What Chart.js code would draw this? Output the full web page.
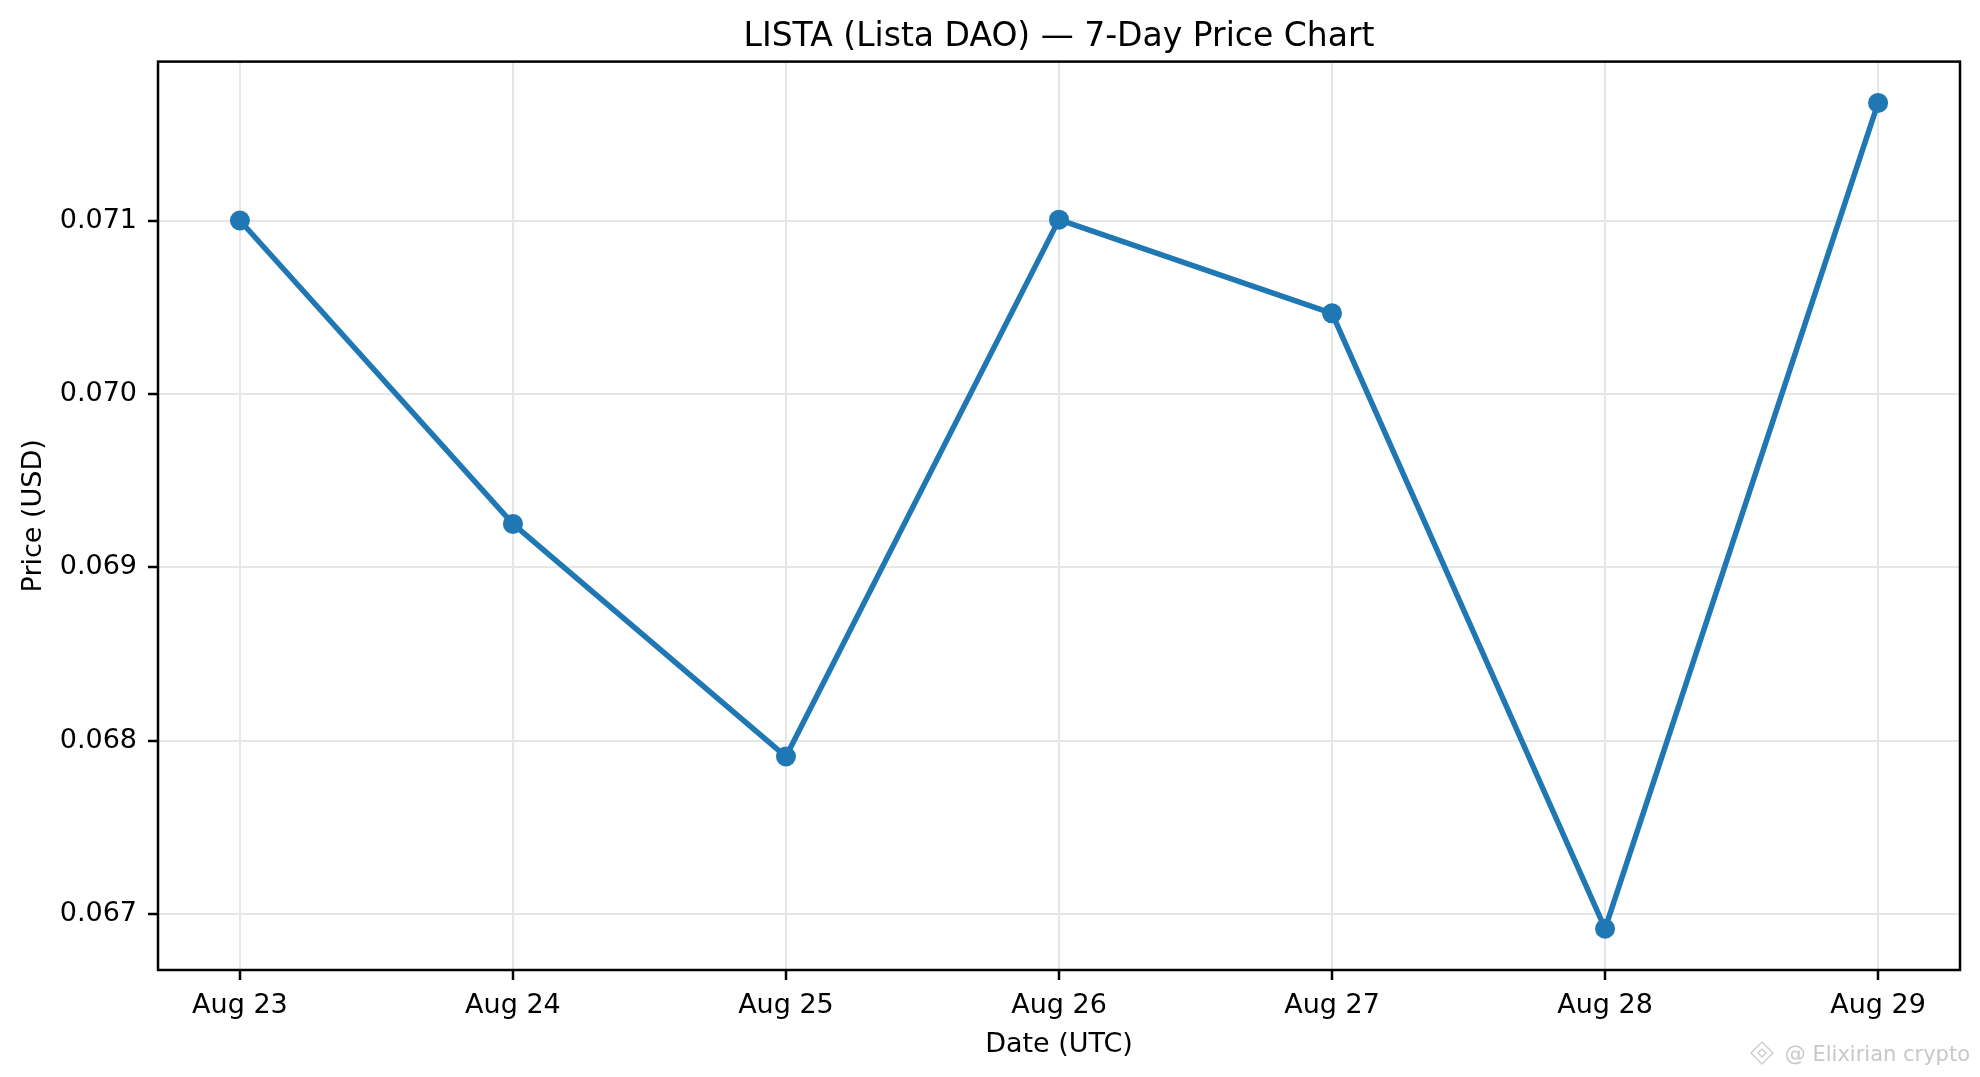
<!DOCTYPE html>
<html>
<head>
<meta charset="utf-8">
<script src="https://cdn.jsdelivr.net/npm/chart.js@4.4.1/dist/chart.umd.min.js"></script>
<style>
  html, body { margin: 0; padding: 0; background: #ffffff; }
  #wrap { width: 1980px; height: 1077px; }
  canvas { display: block; }
</style>
</head>
<body>
<div id="wrap"><canvas id="c" width="1980" height="1077"></canvas></div>
<script>
// ---- data ----
const chartTitle = 'LISTA (Lista DAO) — 7-Day Price Chart';
const xAxisTitle = 'Date (UTC)';
const yAxisTitle = 'Price (USD)';
const dateLabels = ['Aug 23', 'Aug 24', 'Aug 25', 'Aug 26', 'Aug 27', 'Aug 28', 'Aug 29'];
const prices = [0.071003, 0.069251, 0.067908, 0.071008, 0.070467, 0.066914, 0.071682];
const yTickValues = [0.067, 0.068, 0.069, 0.070, 0.071];
const yTickLabels = ['0.067', '0.068', '0.069', '0.070', '0.071'];
const watermark = '@ Elixirian crypto';

// ---- derived (library inputs) ----
const points = prices.map((v, i) => ({ x: i, y: v }));
const n = dateLabels.length;
const xMin = -0.05 * (n - 1);
const xMax = (n - 1) * 1.05;
const pMin = Math.min(...prices), pMax = Math.max(...prices);
const pRange = pMax - pMin;
const yMin = pMin - 0.05 * pRange;
const yMax = pMax + 0.05 * pRange;

const FONT = "'DejaVu Sans', 'Liberation Sans', sans-serif";
const BLUE = '#1f77b4';
const GRID = '#e6e6e6';

const framePlugin = {
  id: 'frame',
  afterDatasetsDraw(chart) {
    const { ctx, chartArea: a } = chart;
    ctx.save();
    ctx.strokeStyle = '#000000';
    ctx.lineWidth = 2.5;
    ctx.strokeRect(a.left, a.top, a.right - a.left, a.bottom - a.top);
    ctx.restore();
  },
  afterDraw(chart) {
    const { ctx } = chart;
    ctx.save();
    ctx.fillStyle = '#c8c8c8';
    ctx.strokeStyle = '#d0d0d0';
    ctx.font = '21px ' + FONT;
    ctx.textAlign = 'right';
    ctx.textBaseline = 'alphabetic';
    ctx.fillText(watermark, 1970, 1061);
    // small diamond logo
    const cx = 1762, cy = 1053, r = 11;
    ctx.lineWidth = 1.5;
    ctx.beginPath();
    ctx.moveTo(cx, cy - r); ctx.lineTo(cx + r, cy); ctx.lineTo(cx, cy + r); ctx.lineTo(cx - r, cy); ctx.closePath();
    ctx.stroke();
    ctx.beginPath();
    ctx.moveTo(cx, cy - 4); ctx.lineTo(cx + 4, cy); ctx.lineTo(cx, cy + 4); ctx.lineTo(cx - 4, cy); ctx.closePath();
    ctx.stroke();
    ctx.restore();
  }
};

new Chart(document.getElementById('c'), {
  type: 'line',
  data: {
    datasets: [{
      data: points,
      borderColor: BLUE,
      backgroundColor: BLUE,
      borderWidth: 5.5,
      borderJoinStyle: 'round',
      tension: 0,
      pointRadius: 10,
      pointHoverRadius: 10,
      pointBorderWidth: 0,
      pointBackgroundColor: BLUE,
      fill: false,
      clip: false
    }]
  },
  options: {
    responsive: false,
    devicePixelRatio: 1,
    animation: false,
    events: [],
    layout: { padding: { left: 0, right: 20, top: 0, bottom: 0 } },
    plugins: {
      legend: { display: false },
      tooltip: { enabled: false },
      title: {
        display: true,
        fullSize: false,
        text: chartTitle,
        color: '#000000',
        font: { family: FONT, size: 33, weight: 'normal', lineHeight: 1.2 },
        padding: { top: 18, bottom: 4 }
      }
    },
    scales: {
      x: {
        type: 'linear',
        min: xMin,
        max: xMax,
        afterBuildTicks(scale) {
          scale.ticks = dateLabels.map((_, i) => ({ value: i }));
        },
        afterFit(scale) { scale.height = 107; },
        ticks: {
          callback: (v) => dateLabels[Math.round(v)] ?? '',
          color: '#000000',
          font: { family: FONT, size: 27, lineHeight: 1.2 },
          padding: 9.5,
          maxRotation: 0,
          autoSkip: false
        },
        grid: {
          color: GRID,
          lineWidth: 2,
          drawTicks: true,
          tickLength: 10,
          tickColor: '#000000',
          tickWidth: 2.5
        },
        border: { display: false },
        title: {
          display: true,
          text: xAxisTitle,
          color: '#000000',
          font: { family: FONT, size: 27, lineHeight: 1.2 },
          padding: { top: 0, bottom: 15.5 }
        }
      },
      y: {
        type: 'linear',
        min: yMin,
        max: yMax,
        afterBuildTicks(scale) {
          scale.ticks = yTickValues.map(v => ({ value: v }));
        },
        afterFit(scale) { scale.width = 158; },
        ticks: {
          callback: (v) => {
            const idx = yTickValues.findIndex(t => Math.abs(t - v) < 1e-9);
            return idx >= 0 ? yTickLabels[idx] : '';
          },
          color: '#000000',
          font: { family: FONT, size: 27, lineHeight: 1.2 },
          padding: 11
        },
        grid: {
          color: GRID,
          lineWidth: 2,
          drawTicks: true,
          tickLength: 10,
          tickColor: '#000000',
          tickWidth: 2.5
        },
        border: { display: false },
        title: {
          display: true,
          text: yAxisTitle,
          color: '#000000',
          font: { family: FONT, size: 27, lineHeight: 1.2 },
          padding: { top: 17.5, bottom: 0 }
        }
      }
    }
  },
  plugins: [framePlugin]
});
</script>
</body>
</html>
